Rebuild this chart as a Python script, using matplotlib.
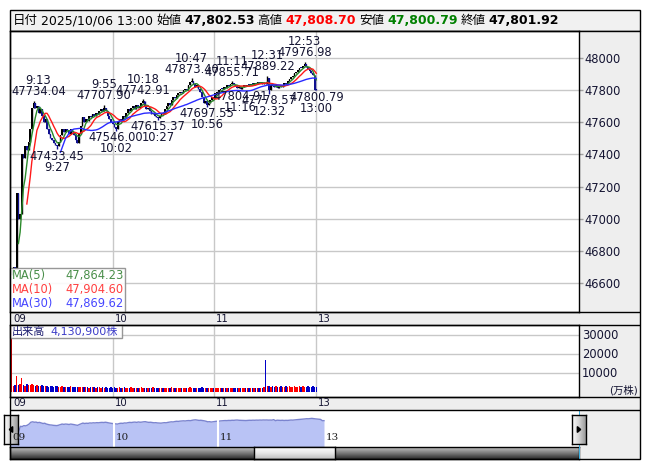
import numpy as np
import pandas as pd
import matplotlib
matplotlib.use('Agg')
import matplotlib.pyplot as plt
from matplotlib.patches import Rectangle, Polygon
from matplotlib.colors import LinearSegmentedColormap

W, H = 653, 470
plt.rcParams['font.family'] = ['DejaVu Sans', 'Noto Sans CJK JP']

# ---------------- data ----------------
header_date = '2025/10/06 13:00'
header_labels = ['始値', '高値', '安値', '終値']
header_values = [47802.53, 47808.70, 47800.79, 47801.92]

# 1-minute closes, 9:00 .. 11:30, 12:30 .. 13:00
closes = [
    46680, 46700, 46690, 47160, 47000, 47030, 47400, 47380, 47450, 47430,
    47480, 47560, 47690, 47720, 47690, 47700, 47660, 47680, 47640, 47600,
    47620, 47560, 47530, 47500, 47490, 47470, 47460, 47450, 47480, 47520,
    47560, 47540, 47560, 47550, 47530, 47560, 47540, 47520, 47490, 47470,
    47530, 47580, 47630, 47600, 47620, 47610, 47640, 47630, 47650, 47640,
    47660, 47650, 47670, 47680, 47670, 47690, 47670, 47640, 47620, 47600,
    47590, 47570, 47560, 47600, 47620, 47610, 47640, 47630, 47660, 47680,
    47670, 47690, 47700, 47680, 47710, 47690, 47700, 47720, 47730, 47700,
    47680, 47690, 47670, 47650, 47660, 47640, 47630, 47625, 47640, 47660,
    47650, 47680, 47700, 47720, 47710, 47740, 47760, 47750, 47770, 47780,
    47790, 47780, 47800, 47810, 47800, 47830, 47850, 47860, 47840, 47820,
    47830, 47810, 47790, 47760, 47720, 47730, 47705, 47720, 47740, 47760,
    47750, 47780, 47790, 47800, 47810, 47805, 47820, 47815, 47830, 47825,
    47840, 47845, 47830, 47825, 47815, 47820, 47810, 47820, 47830, 47825,
    47835, 47830, 47840, 47835, 47845, 47840, 47850, 47845, 47850, 47840,
    47845, 47840, 47875, 47800, 47835, 47825, 47820, 47830, 47815, 47825,
    47820, 47830, 47845, 47840, 47855, 47870, 47880, 47890, 47905, 47915,
    47925, 47940, 47935, 47950, 47965, 47945, 47930, 47920, 47905, 47892,
    47802.53, 47801.92,
]
first_open = 46650.0
last_open, last_high, last_low = 47802.53, 47808.70, 47800.79

# volume per minute (万株)
volumes = [
    42000, 3000, 3600, 8500, 3800, 4200, 7600, 3700, 3400, 4300,
    3800, 3500, 4100, 3600, 3200, 3500, 3000, 3300, 3700, 2900,
    3200, 3100, 2800, 3400, 2900, 2700, 3000, 3200, 2800, 2700,
    2900, 2600, 2800, 2500, 2700, 2900, 2600, 2500, 2800, 2700,
    2600, 2800, 2500, 2400, 2600, 2500, 2300, 2500, 2400, 2600,
    2300, 2400, 2500, 2200, 2400, 2300, 2500, 2300, 2200, 2400,
    2300, 2400, 2200, 2300, 2500, 2200, 2300, 2400, 2100, 2300,
    2200, 2400, 2300, 2100, 2200, 2300, 2200, 2400, 2300, 2100,
    2200, 2300, 2100, 2200, 2400, 2200, 2100, 2300, 2200, 2100,
    2300, 2200, 2100, 2300, 2200, 2400, 2100, 2200, 2300, 2100,
    2200, 2100, 2300, 2200, 2100, 2300, 2400, 2200, 2100, 2200,
    2300, 2100, 2200, 2400, 2300, 2200, 2100, 2300, 2200, 2100,
    2200, 2100, 2300, 2200, 2100, 2200, 2300, 2100, 2200, 2100,
    2300, 2200, 2100, 2200, 2100, 2300, 2200, 2100, 2200, 2300,
    2100, 2200, 2100, 2300, 2200, 2100, 2200, 2300, 2100, 2200,
    2400, 17000, 3000, 2900, 2800, 3000, 2700, 2900, 2800, 2700,
    2900, 2800, 2700, 2900, 2800, 3000, 2700, 2800, 2900, 2700,
    2800, 2900, 2700, 3000, 2800, 2700, 2900, 2800, 2700, 2900,
    2800, 2700,
]
volume_total = 4130900

extreme_times = ['9:13', '9:27', '9:55', '10:02', '10:18', '10:27', '10:47',
                 '10:56', '11:11', '11:16', '12:31', '12:32', '12:53', '13:00']
extreme_values = [47734.04, 47433.45, 47707.90, 47546.00, 47742.91, 47615.37,
                  47873.40, 47697.55, 47855.71, 47804.91, 47889.22, 47778.57,
                  47976.98, 47800.79]
extreme_kinds = ['high', 'low', 'high', 'low', 'high', 'low', 'high', 'low',
                 'high', 'low', 'high', 'low', 'high', 'low']

ma_periods = [5, 10, 30]
ma_last = [47864.23, 47904.60, 47869.62]

price_ticks = [46600, 46800, 47000, 47200, 47400, 47600, 47800, 48000]
volume_ticks = [10000, 20000, 30000]
hour_labels = ['09', '10', '11', '13']
hour_times = ['9:00', '10:00', '11:00', '13:00']


def tidx(t):
    h, m = map(int, t.split(':'))
    mins = (h - 9) * 60 + m
    return mins if mins <= 150 else mins - 59


# ---------------- derived OHLC ----------------
n = len(closes)
xs = np.arange(n)
c = np.array(closes, dtype=float)
o = np.array([first_open] + closes[:-1], dtype=float)
o[-1] = last_open
hi = np.maximum(o, c)
lo = np.minimum(o, c)
hi[-1], lo[-1] = last_high, last_low
for t, v, k in zip(extreme_times, extreme_values, extreme_kinds):
    i = tidx(t)
    if k == 'high':
        hi[i] = max(hi[i], v)
    else:
        lo[i] = min(lo[i], v)
up = c >= o

# ---------------- figure ----------------
fig = plt.figure(figsize=(W / 100, H / 100), dpi=100)
fig.patch.set_facecolor('white')


def fr(x0, y0, x1, y1):
    return [x0 / W, 1 - y1 / H, (x1 - x0) / W, (y1 - y0) / H]


def rect(x0, y0, x1, y1, fc='none', ec='none', lw=1.0, z=-1, alpha=1.0):
    r = Rectangle((x0 / W, 1 - y1 / H), (x1 - x0) / W, (y1 - y0) / H,
                  transform=fig.transFigure, facecolor=fc, edgecolor=ec,
                  lw=lw, zorder=z, alpha=alpha)
    fig.add_artist(r)
    return r


def ftext(x, y, s, **kw):
    kw.setdefault('zorder', 8)
    return fig.text(x / W, 1 - y / H, s, **kw)


L, R, RR = 10, 579, 640
HT, HB = 10, 31
MB, S1B, VB, S2B, NB, SB = 312, 325, 397, 410, 447, 459
GREY = '#eeeeee'
GRID = '#c8c8c8'
TXT = '#141432'
XL = (-1.0, 337.1)

# backgrounds
rect(L, HT, RR, HB, fc='#f1f1f1', ec='black', lw=1.0, z=-1)
rect(R, HB, RR, MB, fc=GREY, z=-1)
rect(R, S1B, RR, VB, fc=GREY, z=-1)
rect(L, MB, RR, S1B, fc=GREY, z=-1)
rect(L, VB, RR, S2B, fc=GREY, z=-1)
rect(R, S2B, RR, SB, fc=GREY, z=-1)

# ---------------- main price axes ----------------
ax = fig.add_axes(fr(L, HB, R, MB))
ax.set_xlim(*XL)
ax.set_ylim(46420, 48168)
for yv in price_ticks:
    ax.axhline(yv, color=GRID, lw=1, zorder=0)
for t in hour_times[1:]:
    ax.axvline(tidx(t), color=GRID, lw=1, zorder=0)

cu, cd = '#000000', '#101090'
cols = np.where(up, cu, cd)
ax.vlines(xs, lo, hi, colors=cols, lw=1.0, zorder=2)
body_h = np.maximum(np.abs(c - o), 7)
ax.bar(xs, body_h, bottom=np.minimum(o, c), width=1.0, color=cols, lw=0, zorder=2)

ma_colors = ['#2a8a2a', '#ff1a1a', '#2a2aff']
s = pd.Series(c)
for p, col in zip(ma_periods, ma_colors):
    ax.plot(xs, s.rolling(p).mean(), color=col, lw=1.0, zorder=3)

ax.set_xticks([])
ax.yaxis.tick_right()
ax.set_yticks(price_ticks)
ax.set_yticklabels([str(v) for v in price_ticks])
ax.tick_params(axis='y', direction='out', length=3, width=1, color='#a0a0a0',
               pad=1, labelsize=8.3, labelcolor=TXT)
for sp in ax.spines.values():
    sp.set_color('black')
    sp.set_linewidth(1.0)

anns = []
for t, v, k in zip(extreme_times, extreme_values, extreme_kinds):
    i = tidx(t)
    if k == 'high':
        d1, d2 = 9, 20
    else:
        d1, d2 = -7, -18
    a1 = ax.annotate(f'{v:.2f}', xy=(i, v), xytext=(0, d1), textcoords='offset pixels',
                     ha='center', va='center', fontsize=8.3, color=TXT, zorder=5,
                     annotation_clip=False)
    a2 = ax.annotate(t, xy=(i, v), xytext=(0, d2), textcoords='offset pixels',
                     ha='center', va='center', fontsize=8.3, color=TXT, zorder=5,
                     annotation_clip=False)
    anns.append((a1, a2))

renderer = fig.canvas.get_renderer()
axbb = ax.get_window_extent(renderer)
for a1, a2 in anns:
    b = a1.get_window_extent(renderer)
    if b.x0 < axbb.x0 + 1:
        dx = axbb.x0 + 1 - b.x0
        a1.xyann = (a1.xyann[0] + dx, a1.xyann[1])
        a2.xyann = (a2.xyann[0] + dx, a2.xyann[1])

# MA legend box
rect(L, 268, 125, MB, fc='white', ec='#8c8c8c', lw=1.0, z=6, alpha=0.9)
for k, (p, v, col) in enumerate(zip(ma_periods, ma_last, ['#4a8f4a', '#ff4040', '#4646ff'])):
    yy = 275.5 + 14 * k
    ftext(12, yy, f'MA({p})', ha='left', va='center', fontsize=8.3, color=col)
    ftext(124, yy, f'{v:,.2f}', ha='right', va='center', fontsize=8.3, color=col)

# strip labels
for lab, t in zip(hour_labels, hour_times):
    xp = 11.7 + 1.683 * tidx(t) + 2
    ftext(xp, 318.5, lab, ha='left', va='center', fontsize=7.3, color=TXT)
    ftext(xp, 403.5, lab, ha='left', va='center', fontsize=7.3, color=TXT)

# ---------------- volume axes ----------------
av = fig.add_axes(fr(L, S1B, R, VB))
av.set_xlim(*XL)
av.set_ylim(-2630, 35260)
for yv in volume_ticks:
    av.axhline(yv, color=GRID, lw=1, zorder=0)
for t in hour_times[1:]:
    av.axvline(tidx(t), color=GRID, lw=1, zorder=0)
vcols = np.where(up, '#ff0000', '#0000c8')
av.bar(xs, volumes, width=0.8, color=vcols, lw=0, zorder=2)
av.set_xticks([])
av.set_yticks([])
for sp in av.spines.values():
    sp.set_color('black')
    sp.set_linewidth(1.0)
for yv in volume_ticks:
    ftext(582, 392 - yv * 19 / 10000 + 0.5, str(yv), ha='left', va='center',
          fontsize=8.3, color=TXT)
ftext(638, 390, '(万株)', ha='right', va='center', fontsize=7.5, color=TXT)

rect(L, S1B, 122, 338, fc='white', ec='#8c8c8c', lw=1.0, z=6, alpha=0.9)
ftext(12, 331.5, '出来高', ha='left', va='center', fontsize=8, color='#1c1c70')
ftext(50, 331.5, f'{volume_total:,}株', ha='left', va='center', fontsize=8, color='#3c3cc8')

# ---------------- navigator ----------------
an = fig.add_axes(fr(L, S2B, R, NB))
an.set_xlim(0, 328)
an.set_ylim(45930, 48560)
an.fill_between(xs, c, 45930, color='#b9c3f5', lw=0, zorder=1)
an.plot(xs, c, color='#7b84cf', lw=1.0, zorder=2)
for t in hour_times[1:3]:
    an.axvline(tidx(t), color='white', lw=1.5, zorder=3)
an.set_xticks([])
an.set_yticks([])
for sp in an.spines.values():
    sp.set_visible(False)
for lab, t in zip(hour_labels, hour_times):
    xp = 10 + 1.735 * tidx(t) + 2
    ftext(xp, 437.5, lab, ha='left', va='center', fontsize=7.5, color='#202020',
          family='DejaVu Serif')
rect(L - 0.5, S2B, L + 0.5, SB, fc='#3fb0e0', z=4)
rect(R - 0.5, S2B, R + 0.5, SB, fc='#3fb0e0', z=4)


# scrollbar
def grad_ax(x0, y0, x1, y1, colors, z=3, horizontal=False):
    a = fig.add_axes(fr(x0, y0, x1, y1), zorder=z)
    cmap = LinearSegmentedColormap.from_list('g', colors)
    g = np.linspace(0, 1, 64)
    img = g[None, :] if horizontal else g[:, None]
    a.imshow(img, cmap=cmap, aspect='auto', extent=(0, 1, 0, 1), origin='upper')
    a.set_xlim(0, 1)
    a.set_ylim(0, 1)
    a.set_xticks([])
    a.set_yticks([])
    for sp in a.spines.values():
        sp.set_color('black')
        sp.set_linewidth(1.0)
    return a


grad_ax(L, NB, R, SB, ['#c4c4c4', '#7a7a7a', '#2c2c2c'])
grad_ax(254, NB, 335, SB, ['#ffffff', '#e6e6e6', '#bdbdbd'], z=4)

# scroll buttons
for x0, dirn in [(4, -1), (572, 1)]:
    b = grad_ax(x0, 415, x0 + 14, 444, ['#ffffff', '#d4d4d4', '#9a9a9a'], z=5, horizontal=True)
    cx, cy = 0.5, 0.5
    tri = [(cx + 0.12 * dirn, cy), (cx - 0.12 * dirn, cy + 0.1), (cx - 0.12 * dirn, cy - 0.1)]
    b.add_patch(Polygon(tri, closed=True, color='black', zorder=5))

# outer borders
rect(L, HB, RR, SB, fc='none', ec='black', lw=1.0, z=7)
for yb in [MB, S1B, VB, S2B]:
    rect(L, yb, RR, yb, ec='black', lw=1.0, z=7)

# ---------------- header ----------------
renderer = fig.canvas.get_renderer()
hx = 13
pieces = [('日付', 'normal', 'black'), (header_date, 'normal', 'black')]
hcols = ['black', '#ff0000', '#008000', 'black']
for lab, v, col in zip(header_labels, header_values, hcols):
    pieces.append((lab, 'normal', 'black'))
    pieces.append((f'{v:,.2f}', 'bold', col))
for s_, wgt, col in pieces:
    tt = ftext(hx, 20.5, s_, ha='left', va='center', fontsize=9, weight=wgt, color=col)
    bb = tt.get_window_extent(renderer)
    hx = bb.x1 + 3

fig.savefig('out.png', dpi=100)
